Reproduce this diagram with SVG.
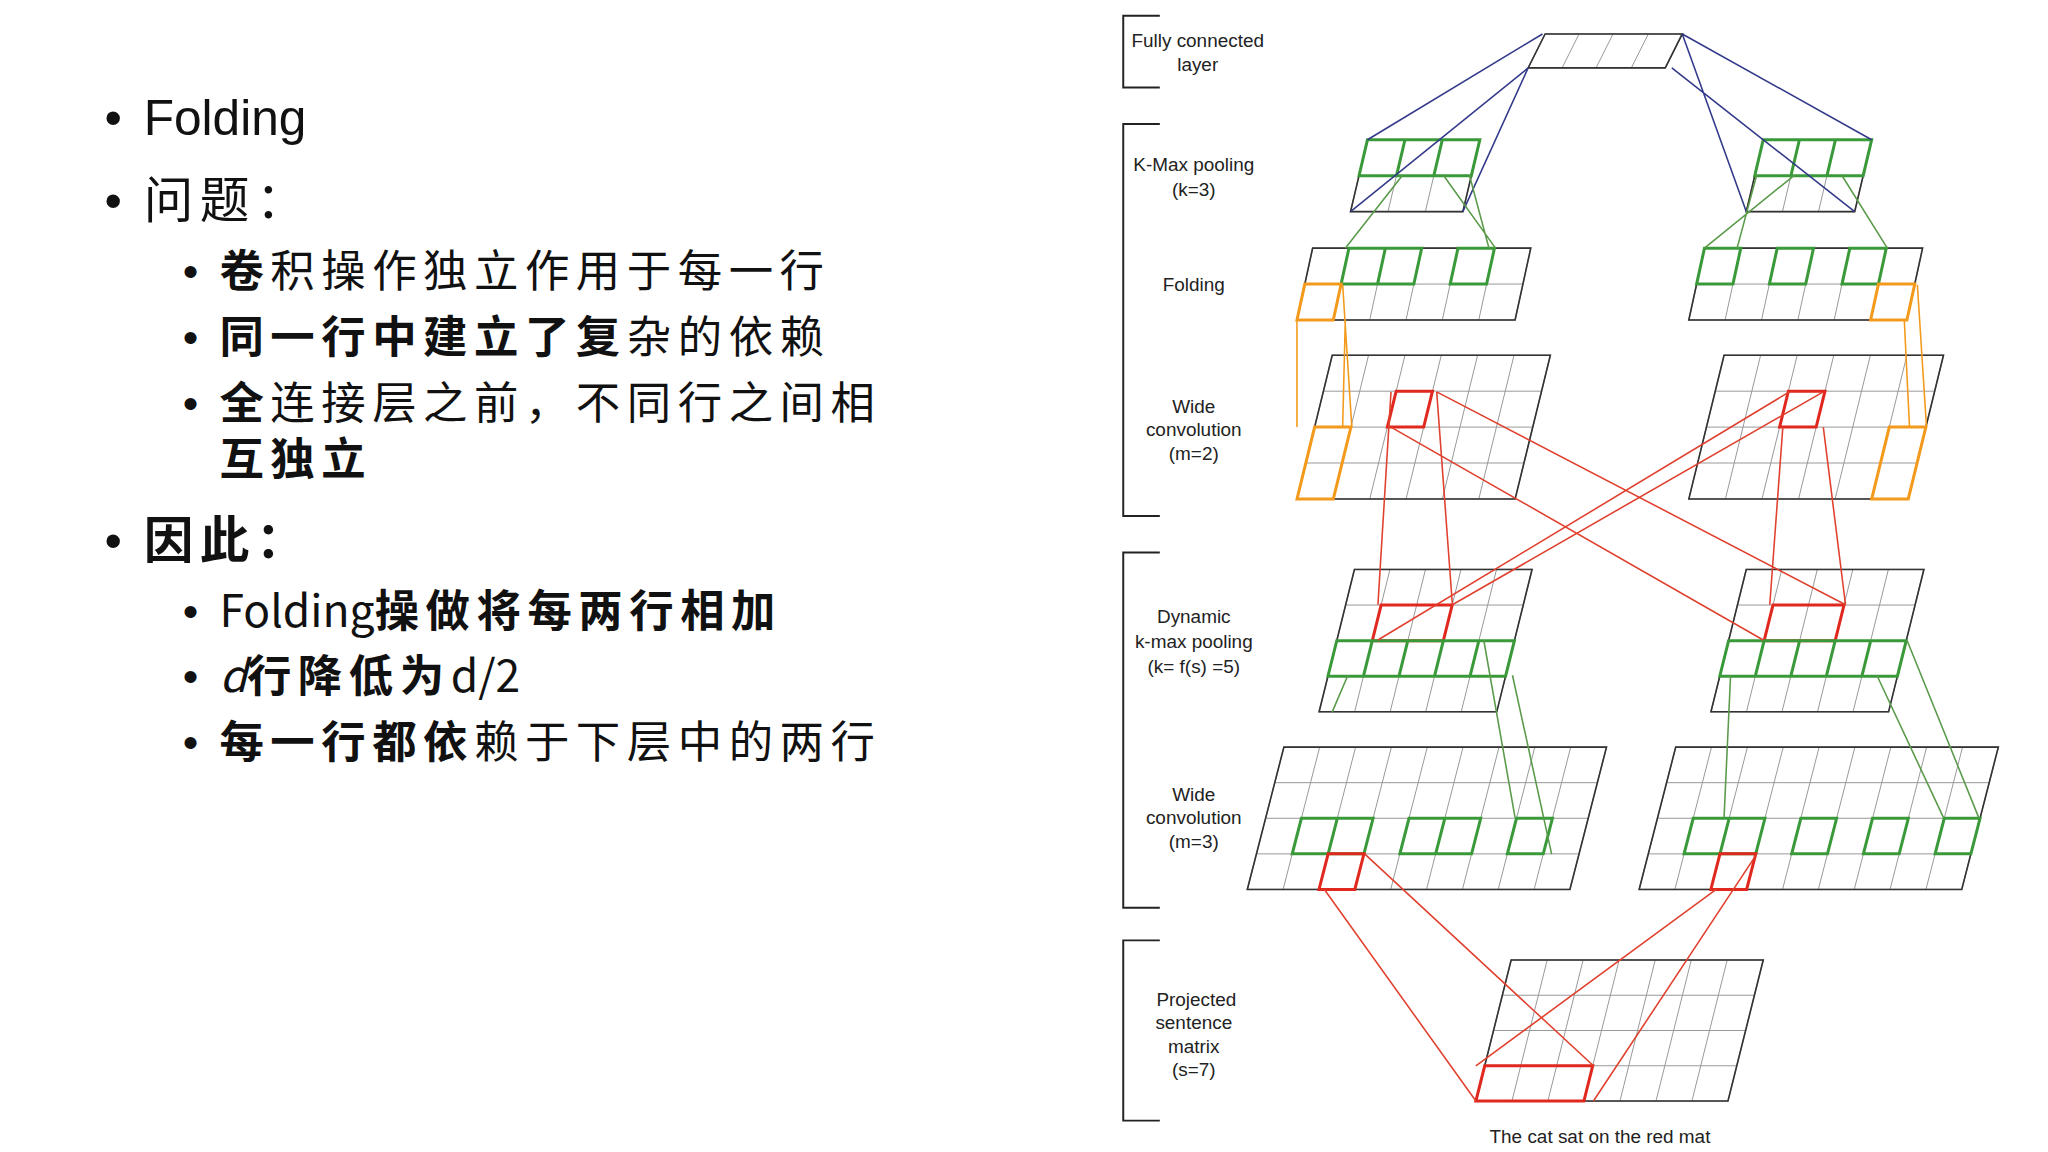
<svg xmlns="http://www.w3.org/2000/svg" width="2048" height="1152" viewBox="0 0 2048 1152">
<style>
.t{font-family:"Liberation Sans","Noto Sans CJK SC",sans-serif;fill:#111}
.cn{font-family:"Noto Sans CJK SC","Liberation Sans",sans-serif;fill:#111}
.ls{letter-spacing:5px}
.b{font-weight:bold}
.lab{font-family:"Liberation Sans",sans-serif;font-size:14.5px;fill:#222;text-anchor:middle}
.g{fill:#fff;stroke:#999;stroke-width:1}
.o{fill:none;stroke:#333;stroke-width:1.6}
.gr{fill:none;stroke:#3a9a3a;stroke-width:3}
.rd{fill:none;stroke:#e0281e;stroke-width:3}
.or{fill:none;stroke:#f39a1c;stroke-width:3}
.lg{stroke:#5a9a4a;stroke-width:1.2;fill:none}
.lr{stroke:#e0402e;stroke-width:1.2;fill:none}
.lo{stroke:#f39a1c;stroke-width:1.2;fill:none}
.lb{stroke:#333a8a;stroke-width:1.2;fill:none}
.br{fill:none;stroke:#222;stroke-width:1.5}
</style>
<rect width="2048" height="1152" fill="#fff"/>
<g transform="scale(1.3061)">
<g id="text">
<text class="t" x="80" y="103" font-size="38">•</text><text class="t" x="110" y="103" font-size="38">Folding</text>
<text class="t" x="80" y="167" font-size="38">•</text><text class="cn ls" x="110" y="167" font-size="38">问题：</text>
<g font-size="34">
<text class="t" x="140" y="220">•</text><text class="cn ls" x="168" y="220"><tspan class="b">卷</tspan>积操作独立作用于每一行</text>
<text class="t" x="140" y="270">•</text><text class="cn ls" x="168" y="270"><tspan class="b">同一行中建立了复</tspan>杂的依赖</text>
<text class="t" x="140" y="321">•</text><text class="cn ls" x="168" y="321"><tspan class="b">全</tspan>连接层之前，不同行之间相</text>
<text class="cn b ls" x="168" y="364">互独立</text>
</g>
<text class="t" x="80" y="427" font-size="38">•</text><text class="cn b ls" x="110" y="427" font-size="38">因此：</text>
<g font-size="34">
<text class="t" x="140" y="480">•</text><text class="cn" x="168" y="480">Folding<tspan class="b ls">操做将每两行相加</tspan></text>
<text class="t" x="140" y="530">•</text><text class="cn" x="168" y="530"><tspan font-style="italic">d</tspan><tspan class="b ls">行降低为</tspan>d/2</text>
<text class="t" x="140" y="580">•</text><text class="cn ls" x="168" y="580"><tspan class="b">每一行都依</tspan>赖于下层中的两行</text>
</g>
</g>
<g id="labels">
<path class="br" d="M888 12H860V67H888M888 95H860V395H888M888 423H860V695H888M888 720H860V858H888"/>
<text class="lab" x="917" y="36">Fully connected</text><text class="lab" x="917" y="54">layer</text>
<text class="lab" x="914" y="131">K-Max pooling</text><text class="lab" x="914" y="150">(k=3)</text>
<text class="lab" x="914" y="223">Folding</text>
<text class="lab" x="914" y="316">Wide</text><text class="lab" x="914" y="334">convolution</text><text class="lab" x="914" y="352">(m=2)</text>
<text class="lab" x="914" y="477">Dynamic</text><text class="lab" x="914" y="496">k-max pooling</text><text class="lab" x="914" y="515">(k= f(s) =5)</text>
<text class="lab" x="914" y="613">Wide</text><text class="lab" x="914" y="631">convolution</text><text class="lab" x="914" y="649">(m=3)</text>
<text class="lab" x="916" y="770">Projected</text><text class="lab" x="914" y="788">sentence</text><text class="lab" x="914" y="806">matrix</text><text class="lab" x="914" y="824">(s=7)</text>
<text class="lab" x="1225" y="875" font-size="15.5">The cat sat on the red mat</text>
</g>
<g id="fc" transform="matrix(1,0,-0.5,1,1183,26)">
<rect class="g" width="105" height="26"/><path class="g" d="M26 0V26M52 0V26M79 0V26" vector-effect="non-scaling-stroke"/><rect class="o" width="105" height="26" vector-effect="non-scaling-stroke"/>
</g>
<g id="kmaxL" transform="matrix(1,0,-0.236,1,1047,107)">
<rect class="g" width="86" height="55"/><path class="g" d="M0 27.5H86M28.7 0V55M57.3 0V55" vector-effect="non-scaling-stroke"/><rect class="o" width="86" height="55" vector-effect="non-scaling-stroke"/>
<path class="gr" d="M0 0H86V27.5H0ZM28.7 0V27.5M57.3 0V27.5" vector-effect="non-scaling-stroke"/>
</g>
<g id="kmaxR" transform="matrix(1,0,-0.236,1,1350,107)">
<rect class="g" width="83" height="55"/><path class="g" d="M0 27.5H83M27.7 0V55M55.3 0V55" vector-effect="non-scaling-stroke"/><rect class="o" width="83" height="55" vector-effect="non-scaling-stroke"/>
<path class="gr" d="M0 0H83V27.5H0ZM27.7 0V27.5M55.3 0V27.5" vector-effect="non-scaling-stroke"/>
</g>
<g id="foldL" transform="matrix(1,0,-0.218,1,1005,190)">
<rect class="g" width="167" height="55"/><path class="g" d="M0 27.5H167M27.8 0V55M55.7 0V55M83.5 0V55M111.3 0V55M139.2 0V55" vector-effect="non-scaling-stroke"/><rect class="o" width="167" height="55" vector-effect="non-scaling-stroke"/>
<path class="gr" d="M27.8 0H83.5V27.5H27.8ZM55.7 0V27.5M111.3 0H139.2V27.5H111.3Z" vector-effect="non-scaling-stroke"/>
<rect class="or" y="27.5" width="27.8" height="27.5" vector-effect="non-scaling-stroke"/>
</g>
<g id="foldR" transform="matrix(1,0,-0.218,1,1305,190)">
<rect class="g" width="167" height="55"/><path class="g" d="M0 27.5H167M27.8 0V55M55.7 0V55M83.5 0V55M111.3 0V55M139.2 0V55" vector-effect="non-scaling-stroke"/><rect class="o" width="167" height="55" vector-effect="non-scaling-stroke"/>
<path class="gr" d="M0 0H27.8V27.5H0ZM55.7 0H83.5V27.5H55.7ZM111.3 0H139.2V27.5H111.3Z" vector-effect="non-scaling-stroke"/>
<rect class="or" x="139.2" y="27.5" width="27.8" height="27.5" vector-effect="non-scaling-stroke"/>
</g>
<g id="wide2L" transform="matrix(1,0,-0.245,1,1020,272)">
<rect class="g" width="167" height="110"/><path class="g" d="M0 27.5H167M0 55H167M0 82.5H167M27.8 0V110M55.7 0V110M83.5 0V110M111.3 0V110M139.2 0V110" vector-effect="non-scaling-stroke"/><rect class="o" width="167" height="110" vector-effect="non-scaling-stroke"/>
<rect class="rd" x="55.7" y="27.5" width="27.8" height="27.5" vector-effect="non-scaling-stroke"/>
<rect class="or" y="55" width="27.8" height="55" vector-effect="non-scaling-stroke"/>
</g>
<g id="wide2R" transform="matrix(1,0,-0.245,1,1320,272)">
<rect class="g" width="168" height="110"/><path class="g" d="M0 27.5H168M0 55H168M0 82.5H168M28 0V110M56 0V110M84 0V110M112 0V110M140 0V110" vector-effect="non-scaling-stroke"/><rect class="o" width="168" height="110" vector-effect="non-scaling-stroke"/>
<rect class="rd" x="56" y="27.5" width="28" height="27.5" vector-effect="non-scaling-stroke"/>
<rect class="or" x="140" y="55" width="28" height="55" vector-effect="non-scaling-stroke"/>
</g>
<g id="dynL" transform="matrix(1,0,-0.248,1,1037,436)">
<rect class="g" width="136" height="109"/><path class="g" d="M0 27.25H136M0 54.5H136M0 81.75H136M27.2 0V109M54.4 0V109M81.6 0V109M108.8 0V109" vector-effect="non-scaling-stroke"/><rect class="o" width="136" height="109" vector-effect="non-scaling-stroke"/>
<rect class="rd" x="27.2" y="27.25" width="54.4" height="27.25" vector-effect="non-scaling-stroke"/>
<path class="gr" d="M0 54.5H136V81.75H0ZM27.2 54.5V81.75M54.4 54.5V81.75M81.6 54.5V81.75M108.8 54.5V81.75" vector-effect="non-scaling-stroke"/>
</g>
<g id="dynR" transform="matrix(1,0,-0.248,1,1337,436)">
<rect class="g" width="136" height="109"/><path class="g" d="M0 27.25H136M0 54.5H136M0 81.75H136M27.2 0V109M54.4 0V109M81.6 0V109M108.8 0V109" vector-effect="non-scaling-stroke"/><rect class="o" width="136" height="109" vector-effect="non-scaling-stroke"/>
<rect class="rd" x="27.2" y="27.25" width="54.4" height="27.25" vector-effect="non-scaling-stroke"/>
<path class="gr" d="M0 54.5H136V81.75H0ZM27.2 54.5V81.75M54.4 54.5V81.75M81.6 54.5V81.75M108.8 54.5V81.75" vector-effect="non-scaling-stroke"/>
</g>
<g id="wide3L" transform="matrix(1,0,-0.257,1,983,572)">
<rect class="g" width="247" height="109"/><path class="g" d="M0 27.25H247M0 54.5H247M0 81.75H247M27.4 0V109M54.9 0V109M82.3 0V109M109.8 0V109M137.2 0V109M164.7 0V109M192.1 0V109M219.6 0V109" vector-effect="non-scaling-stroke"/><rect class="o" width="247" height="109" vector-effect="non-scaling-stroke"/>
<path class="gr" d="M27.4 54.5H82.3V81.75H27.4ZM54.9 54.5V81.75M109.8 54.5H164.7V81.75H109.8ZM137.2 54.5V81.75M192.1 54.5H219.6V81.75H192.1Z" vector-effect="non-scaling-stroke"/>
<rect class="rd" x="54.9" y="81.75" width="27.4" height="27.25" vector-effect="non-scaling-stroke"/>
</g>
<g id="wide3R" transform="matrix(1,0,-0.257,1,1283,572)">
<rect class="g" width="247" height="109"/><path class="g" d="M0 27.25H247M0 54.5H247M0 81.75H247M27.4 0V109M54.9 0V109M82.3 0V109M109.8 0V109M137.2 0V109M164.7 0V109M192.1 0V109M219.6 0V109" vector-effect="non-scaling-stroke"/><rect class="o" width="247" height="109" vector-effect="non-scaling-stroke"/>
<path class="gr" d="M27.4 54.5H82.3V81.75H27.4ZM54.9 54.5V81.75M109.8 54.5H137.2V81.75H109.8ZM164.7 54.5H192.1V81.75H164.7ZM219.6 54.5H247V81.75H219.6Z" vector-effect="non-scaling-stroke"/>
<rect class="rd" x="54.9" y="81.75" width="27.4" height="27.25" vector-effect="non-scaling-stroke"/>
</g>
<g id="proj" transform="matrix(1,0,-0.25,1,1157,735)">
<rect class="g" width="193" height="108"/><path class="g" d="M0 27H193M0 54H193M0 81H193M27.6 0V108M55.1 0V108M82.7 0V108M110.3 0V108M137.9 0V108M165.4 0V108" vector-effect="non-scaling-stroke"/><rect class="o" width="193" height="108" vector-effect="non-scaling-stroke"/>
<rect class="rd" y="81" width="82.7" height="27" vector-effect="non-scaling-stroke"/>
</g>
<g id="connectors">
<path class="lb" d="M1181 26L1047 107M1170 52L1034 162M1170 52L1120 162M1288 26L1433 107M1280 52L1420 162M1288 26L1337 162"/>
<path class="lg" d="M1074 134L1030 190M1105 134L1145 190M1125 134L1140 190M1374 134L1305 190M1345 134L1330 190M1410 134L1445 190"/>
<path class="lo" d="M993 245L993 327M1028 218L1035 327M1030 245L1028 327M1468 218L1475 327M1458 245L1462 327"/>
<path class="lr" d="M1065 300L1055 463M1100 300L1112 463M1065 327L1350 490M1100 300L1413 463M1370 300L1055 490M1396 300L1112 463M1365 327L1355 463M1396 327L1413 463"/>
<path class="lg" d="M1032 517L1020 545M1158 517L1188 654M1136 490L1160 626M1460 490L1515 626M1437 517L1488 626M1325 517L1320 626"/>
<path class="lr" d="M1014 681L1130 843M1045 654L1220 816M1314 681L1130 816M1345 654L1220 843"/>
</g>
</g>
</svg>
